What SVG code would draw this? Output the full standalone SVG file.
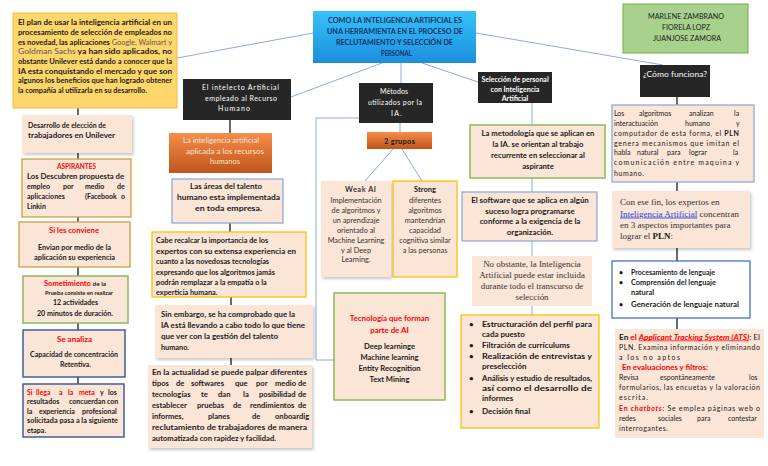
<svg xmlns="http://www.w3.org/2000/svg" width="768" height="466" viewBox="0 0 768 466">
<defs>
<filter id="sh" x="-10%" y="-10%" width="130%" height="130%"><feDropShadow dx="1.5" dy="2" stdDeviation="1.5" flood-color="#000" flood-opacity="0.22"/></filter>
<linearGradient id="gB" x1="0" y1="0" x2="0" y2="1"><stop offset="0" stop-color="#35C3F7"/><stop offset="1" stop-color="#1C8EDF"/></linearGradient>
<linearGradient id="gO" x1="0" y1="0" x2="0" y2="1"><stop offset="0" stop-color="#F58D4C"/><stop offset="1" stop-color="#BF5519"/></linearGradient>
</defs>
<style>
.pe{fill:#FBE5D6}
.blk{fill:#262626}
.gold{fill:#FBE5D6;stroke:#C9A043;stroke-width:1.3}
.yel{fill:#FBE5D6;stroke:#FFC000;stroke-width:1.3}
.grn{fill:#FBE5D6;stroke:#8DB85A;stroke-width:1.5}
.dbl{fill:#FBE5D6;stroke:#3E5F9E;stroke-width:1.5}
.lbl{fill:#FBE5D6;stroke:#8FAADC;stroke-width:1.3}
.t{font-family:Lato,"Liberation Sans",sans-serif;font-size:7px;font-weight:bold;fill:#1a1a1a}
.n{font-weight:normal}
.c{text-anchor:middle}
.r{fill:#FF0000}
.w{fill:#ffffff;font-weight:normal}
.s{font-family:"Liberation Serif",serif;font-weight:normal;font-size:8.9px;fill:#333333}
.con{stroke:#8EA9DB;stroke-width:1;fill:none}
.dk{stroke:#3a3a3a;stroke-width:1.5;fill:none}
.a{font-size:7.6px}
</style>
<rect width="768" height="466" fill="#ffffff"/>

<g id="connectors">
<path class="con" d="M177 58 L313 33"/>
<path class="con" d="M476 33 L663 65"/>
<path class="con" d="M382 63 L291 97"/>
<path class="con" d="M401 63 L401 83"/>
<path class="con" d="M422 63 L478 82"/>
<path class="con" d="M400 123 L400 132"/>
<path class="con" d="M393 149 L365 181"/>
<path class="con" d="M402 149 L422 181"/>
<path class="con" d="M359 118 L316 118 L316 360 L334 360"/>
<path class="con" d="M532 103 L532 125 M532 178 L532 192 M532 241 L532 256 M532 306 L532 315"/>
<path class="dk" d="M78 108 L78 115 M78 153 L78 159 M78 217 L78 222 M78 267 L78 276 M78 323 L78 330 M78 377 L78 384"/>
<path class="dk" d="M230 120 L230 133 M230 223 L230 232 M231 297 L231 305 M231 358 L231 365"/>
<path class="dk" d="M677 97 L677 105 M677 182 L677 192 M677 248 L677 261 M677 318 L677 329"/>
</g>

<g id="title">
<rect x="313" y="11" width="163" height="52" fill="url(#gB)"/>
<text class="t" x="328" y="23" style="font-size:7.2px;fill:#12306A" textLength="134" lengthAdjust="spacingAndGlyphs">COMO LA INTELIGENCIA ARTIFICIAL ES</text>
<text class="t" x="327" y="34" style="font-size:7.2px;fill:#12306A" textLength="136" lengthAdjust="spacingAndGlyphs">UNA HERRAMIENTA EN EL PROCESO DE</text>
<text class="t" x="336" y="45" style="font-size:7.2px;fill:#12306A" textLength="117" lengthAdjust="spacingAndGlyphs">RECLUTAMIENTO Y SELECCIÓN DE</text>
<text class="t" x="381" y="56" style="font-size:7.2px;fill:#12306A" textLength="32" lengthAdjust="spacingAndGlyphs">PERSONAL.</text>
</g>

<g id="authors">
<rect x="623" y="4" width="125" height="49" fill="#A9D18E" stroke="#70AD47" stroke-width="1"/>
<text class="t n" x="648" y="19" style="font-size:7.2px" textLength="76" lengthAdjust="spacingAndGlyphs">MARLENE ZAMBRANO</text>
<text class="t n" x="662" y="30" style="font-size:7.2px" textLength="48" lengthAdjust="spacingAndGlyphs">FIORELA LOPZ</text>
<text class="t n" x="653" y="41" style="font-size:7.2px" textLength="68" lengthAdjust="spacingAndGlyphs">JUANJOSE ZAMORA</text>
</g>

<g id="intro">
<rect x="13" y="13" width="164" height="95" fill="#FFD66B" stroke="#F4B942" stroke-width="1"/>
<text class="t" x="18" y="25.3" style="font-size:6.9px" textLength="154" lengthAdjust="spacingAndGlyphs">El plan de usar la inteligencia artificial en un</text>
<text class="t" x="18" y="35" style="font-size:6.9px" textLength="154" lengthAdjust="spacingAndGlyphs">procesamiento   de selección de empleados no</text>
<text class="t" x="18" y="44.6" style="font-size:6.9px" textLength="154" lengthAdjust="spacingAndGlyphs">es novedad, las aplicaciones <tspan class="n" fill="#595959">Google, Walmart y</tspan></text>
<text class="t" x="18" y="54.2" style="font-size:6.9px" textLength="154" lengthAdjust="spacingAndGlyphs"><tspan class="n" fill="#595959">Goldman Sachs</tspan> ya han sido aplicados, no</text>
<text class="t" x="18" y="63.8" style="font-size:6.9px" textLength="154" lengthAdjust="spacingAndGlyphs">obstante Unilever está dando a conocer que la</text>
<text class="t" x="18" y="73.5" style="font-size:6.9px" textLength="154" lengthAdjust="spacingAndGlyphs">IA esta conquistando el mercado y que son</text>
<text class="t" x="18" y="83.1" style="font-size:6.9px" textLength="154" lengthAdjust="spacingAndGlyphs">algunos los beneficios que han logrado obtener</text>
<text class="t" x="18" y="92.7" style="font-size:6.9px" textLength="129" lengthAdjust="spacingAndGlyphs">la compañía al utilizarla en su desarrollo.</text>
</g>

<g id="desarrollo">
<rect class="pe" x="22" y="115" width="110" height="38" filter="url(#sh)"/>
<text class="t" x="28" y="127.5" style="font-size:7.3px" textLength="78" lengthAdjust="spacingAndGlyphs">Desarrollo de elección de</text>
<text class="t" x="28" y="137.5" style="font-size:7.3px" textLength="87" lengthAdjust="spacingAndGlyphs">trabajadores en Unilever</text>
</g>

<g id="aspirantes">
<rect class="gold" x="22" y="159" width="109" height="58"/>
<text class="t r" x="57" y="168.5" textLength="39" lengthAdjust="spacingAndGlyphs">ASPIRANTES</text>
<text class="t" x="27" y="179" textLength="97" lengthAdjust="spacingAndGlyphs">Los Descubren propuesta de</text>
<text class="t" y="189"><tspan x="27">empleo</tspan><tspan x="63">por</tspan><tspan x="85">medio</tspan><tspan x="117">de</tspan></text>
<text class="t" y="199"><tspan x="27">aplicaciones</tspan><tspan x="85">(Facebook</tspan><tspan x="121">o</tspan></text>
<text class="t" x="27" y="209">Linkin</text>
</g>

<g id="conviene">
<rect class="gold" x="19" y="222" width="111" height="45"/>
<text class="t r" x="49" y="232.5" style="font-size:7.5px" textLength="50" lengthAdjust="spacingAndGlyphs">Si les conviene</text>
<text class="t" x="38" y="250" textLength="73" lengthAdjust="spacingAndGlyphs">Envian por medio de la</text>
<text class="t" x="34" y="259.5" textLength="81" lengthAdjust="spacingAndGlyphs">aplicación su experiencia</text>
</g>

<g id="sometimiento">
<rect class="grn" x="23" y="276" width="105" height="47"/>
<text class="t" x="44" y="285.5" textLength="62" lengthAdjust="spacingAndGlyphs"><tspan class="r">Sometimiento</tspan><tspan style="font-size:6px"> de la</tspan></text>
<text class="t" x="45" y="295" style="font-size:6px" textLength="68" lengthAdjust="spacingAndGlyphs">Prueba consiste en realizar</text>
<text class="t" x="53" y="305" textLength="45" lengthAdjust="spacingAndGlyphs">12 actividades</text>
<text class="t" x="37" y="315.5" textLength="76" lengthAdjust="spacingAndGlyphs">20 minutos de duración.</text>
</g>

<g id="analiza">
<rect class="dbl" x="23" y="330" width="102" height="47"/>
<text class="t r" x="57" y="341.5" textLength="35" lengthAdjust="spacingAndGlyphs">Se analiza</text>
<text class="t" x="30" y="357" textLength="88" lengthAdjust="spacingAndGlyphs">Capacidad de concentración</text>
<text class="t" x="60" y="367" textLength="31" lengthAdjust="spacingAndGlyphs">Retentiva.</text>
</g>

<g id="meta">
<rect class="dbl" x="23" y="384" width="101" height="53"/>
<text class="t r" y="394.5"><tspan x="27">Si</tspan><tspan x="36">llega</tspan><tspan x="59">a</tspan><tspan x="68">la</tspan><tspan x="79">meta</tspan></text>
<text class="t" y="394.5"><tspan x="100">y</tspan><tspan x="108">los</tspan></text>
<text class="t" y="404"><tspan x="27">resultados</tspan><tspan x="69">concuerdan</tspan><tspan x="107">con</tspan></text>
<text class="t" y="413.5"><tspan x="27">la</tspan><tspan x="39">experiencia</tspan><tspan x="82">profesional</tspan></text>
<text class="t" x="27" y="423" textLength="91" lengthAdjust="spacingAndGlyphs">solicitada pasa a la siguiente</text>
<text class="t" x="27" y="432.5">etapa.</text>
</g>

<g id="intelecto">
<rect class="blk" x="183" y="79" width="108" height="41"/>
<text class="t w" x="202" y="89.5" textLength="77" lengthAdjust="spacing">El intelecto Artificial</text>
<text class="t w" x="205" y="100.5" textLength="72" lengthAdjust="spacing">empleado al Recurso</text>
<text class="t w" x="218" y="111" textLength="32" lengthAdjust="spacing">Humano</text>
</g>

<g id="ia-rrhh">
<rect x="169" y="133" width="103" height="40" fill="url(#gO)"/>
<text class="t n" x="183" y="143" style="font-size:7.3px;fill:#FBE2D0" textLength="76" lengthAdjust="spacingAndGlyphs">La inteligencia artificial</text>
<text class="t n" x="186" y="153.5" style="font-size:7.3px;fill:#FBE2D0" textLength="78" lengthAdjust="spacingAndGlyphs">aplicada a los recursos</text>
<text class="t n" x="210" y="164" style="font-size:7.3px;fill:#FBE2D0" textLength="30" lengthAdjust="spacingAndGlyphs">humanos</text>
</g>

<g id="areas">
<rect class="lbl" x="172" y="179" width="111" height="44"/>
<text class="t" x="190" y="188.5" style="font-size:7.8px" textLength="72" lengthAdjust="spacingAndGlyphs">Las áreas del talento</text>
<text class="t" x="177" y="199.5" style="font-size:7.8px" textLength="103" lengthAdjust="spacingAndGlyphs">humano esta implementada</text>
<text class="t" x="195" y="211" style="font-size:7.8px" textLength="67" lengthAdjust="spacingAndGlyphs">en toda empresa.</text>
</g>

<g id="cabe">
<rect class="yel" x="152" y="232" width="154" height="65"/>
<text class="t" x="156" y="243" style="font-size:7.3px">Cabe recalcar la importancia de los</text>
<text class="t" x="156" y="253.5" style="font-size:7.3px" textLength="140" lengthAdjust="spacingAndGlyphs">expertos con su extensa experiencia en</text>
<text class="t" x="156" y="264" style="font-size:7.3px">cuanto a las novedosas tecnologías</text>
<text class="t" x="156" y="274.5" style="font-size:7.3px">expresando que los algoritmos jamás</text>
<text class="t" x="156" y="285" style="font-size:7.3px">podrán remplazar a la empatía o la</text>
<text class="t" x="156" y="295" style="font-size:7.3px">experticia humana.</text>
</g>

<g id="sinembargo">
<rect class="pe" x="155" y="305" width="158" height="53" filter="url(#sh)"/>
<text class="t" x="161" y="316.5" style="font-size:7.3px" textLength="134" lengthAdjust="spacingAndGlyphs">Sin embargo, se ha comprobado que la</text>
<text class="t" x="161" y="327.5" style="font-size:7.3px" textLength="144" lengthAdjust="spacingAndGlyphs">IA está llevando a cabo todo lo que tiene</text>
<text class="t" x="161" y="339" style="font-size:7.3px" textLength="117" lengthAdjust="spacingAndGlyphs">que ver con la gestión del talento</text>
<text class="t" x="161" y="350" style="font-size:7.3px">humano.</text>
</g>

<g id="actualidad">
<rect class="pe" x="148" y="365" width="164" height="83" filter="url(#sh)"/>
<text class="t a" x="152" y="374.5" textLength="155" lengthAdjust="spacingAndGlyphs">En la actualidad se puede palpar diferentes</text>
<text class="t a" y="386"><tspan x="152">tipos</tspan><tspan x="176">de</tspan><tspan x="191">softwares</tspan><tspan x="235">que</tspan><tspan x="256">por</tspan><tspan x="275">medio</tspan><tspan x="298">de</tspan></text>
<text class="t a" y="397"><tspan x="152">tecnologías</tspan><tspan x="201">te</tspan><tspan x="218">dan</tspan><tspan x="243">la</tspan><tspan x="259">posibilidad</tspan><tspan x="298">de</tspan></text>
<text class="t a" y="408"><tspan x="152">establecer</tspan><tspan x="197">pruebas</tspan><tspan x="233">de</tspan><tspan x="250">rendimientos</tspan><tspan x="298">de</tspan></text>
<text class="t a" y="419"><tspan x="152">informes,</tspan><tspan x="208">planes</tspan><tspan x="252">de</tspan><tspan x="275">onboardig</tspan></text>
<text class="t a" x="152" y="429.5" textLength="155" lengthAdjust="spacingAndGlyphs">reclutamiento de trabajadores de manera</text>
<text class="t a" x="152" y="441">automatizada con rapidez y facilidad.</text>
</g>

<g id="metodos">
<rect class="blk" x="359" y="83" width="74" height="40"/>
<text class="t w" x="380" y="93.5" textLength="28" lengthAdjust="spacing">Métodos</text>
<text class="t w" x="368" y="104.5" textLength="54" lengthAdjust="spacing">utilizados por la</text>
<text class="t w" x="391" y="115.5" textLength="11" lengthAdjust="spacing">IA.</text>
</g>

<g id="grupos">
<rect x="367" y="132" width="65" height="17" fill="url(#gO)"/>
<text class="t" x="384" y="143.5" style="font-size:7.5px" textLength="31" lengthAdjust="spacing">2 grupos</text>
</g>

<g id="weak">
<rect class="pe" x="321" y="181" width="70" height="96" filter="url(#sh)"/>
<text class="t" x="345" y="191.5" style="font-size:7.5px;font-weight:600" textLength="31" lengthAdjust="spacing">Weak AI</text>
<text class="t c n" x="356" y="202.5" style="font-size:7.3px;fill:#333">Implementación</text>
<text class="t c n" x="356" y="213" style="font-size:7.3px;fill:#333">de algoritmos y</text>
<text class="t c n" x="356" y="223" style="font-size:7.3px;fill:#333">un aprendizaje</text>
<text class="t c n" x="356" y="232.5" style="font-size:7.3px;fill:#333">orientado al</text>
<text class="t c n" x="356" y="242.5" style="font-size:7.3px;fill:#333">Machine Learning</text>
<text class="t c n" x="356" y="252.5" style="font-size:7.3px;fill:#333">y al Deep</text>
<text class="t c n" x="356" y="261.5" style="font-size:7.3px;fill:#333">Learning.</text>
</g>

<g id="strong">
<rect class="yel" x="393" y="181" width="64" height="96"/>
<text class="t c" x="425" y="191.5" style="font-size:7.5px">Strong</text>
<text class="t c n" x="425" y="202.5" style="font-size:7.3px;fill:#333">diferentes</text>
<text class="t c n" x="425" y="212.5" style="font-size:7.3px;fill:#333">algoritmos</text>
<text class="t c n" x="425" y="222.5" style="font-size:7.3px;fill:#333">mantendrían</text>
<text class="t c n" x="425" y="232.5" style="font-size:7.3px;fill:#333">capacidad</text>
<text class="t c n" x="425" y="242.5" style="font-size:7.3px;fill:#333">cognitiva similar</text>
<text class="t c n" x="425" y="252.5" style="font-size:7.3px;fill:#333">a las personas</text>
</g>

<g id="tecnologia">
<rect class="grn" x="334" y="293" width="111" height="107"/>
<text class="t c r" x="389.5" y="320.5" style="font-size:7.9px">Tecnología que forman</text>
<text class="t c r" x="389.5" y="333" style="font-size:7.9px">parte de AI</text>
<text class="t c" x="389.5" y="349" style="font-size:7.6px">Deep learninge</text>
<text class="t c" x="389.5" y="360" style="font-size:7.6px">Machine learning</text>
<text class="t c" x="389.5" y="371" style="font-size:7.6px">Entity Recognition</text>
<text class="t c" x="389.5" y="382" style="font-size:7.6px">Text Mining</text>
</g>

<g id="seleccion">
<rect class="blk" x="478" y="72" width="74" height="31"/>
<text class="t c" x="515" y="81.5" style="font-size:7px;fill:#fff">Selección de personal</text>
<text class="t c" x="515" y="91.5" style="font-size:7px;fill:#fff">con Inteligencia</text>
<text class="t c" x="515" y="101" style="font-size:7px;fill:#fff">Artificial</text>
</g>

<g id="metodologia">
<rect class="grn" x="470" y="125" width="135" height="53"/>
<text class="t c" x="538" y="135.5" style="font-size:7.7px">La metodología que se aplican en</text>
<text class="t c" x="538" y="146.5" style="font-size:7.7px">la IA. se orientan al trabajo</text>
<text class="t c" x="538" y="157.5" style="font-size:7.7px">recurrente en seleccionar al</text>
<text class="t c" x="538" y="168.5" style="font-size:7.7px">aspirante</text>
</g>

<g id="software">
<rect class="lbl" x="462" y="192" width="135" height="49"/>
<text class="t c" x="530" y="202.5" style="font-size:7.9px">El software que se aplica en algún</text>
<text class="t c" x="530" y="213.5" style="font-size:7.9px">suceso logra programarse</text>
<text class="t c" x="530" y="224" style="font-size:7.9px">conforme a la exigencia de la</text>
<text class="t c" x="530" y="234.5" style="font-size:7.9px">organización.</text>
</g>

<g id="noobstante">
<rect class="pe" x="472" y="256" width="120" height="50"/>
<text class="s c" x="532" y="267">No obstante, la Inteligencia</text>
<text class="s c" x="532" y="278">Artificial puede estar incluida</text>
<text class="s c" x="532" y="289">durante todo el transcurso de</text>
<text class="s c" x="532" y="300">selección</text>
</g>

<g id="etapas">
<rect class="yel" x="461" y="315" width="138" height="113"/>
<text class="t" x="469" y="327" style="font-size:8px">•</text>
<text class="t" x="482" y="327" style="font-size:8px" textLength="110" lengthAdjust="spacingAndGlyphs">Estructuración del perfil para</text>
<text class="t" x="482" y="337" style="font-size:8px">cada puesto</text>
<text class="t" x="469" y="348" style="font-size:8px">•</text>
<text class="t" x="482" y="348" style="font-size:8px">Filtración de currículums</text>
<text class="t" x="469" y="359" style="font-size:8px">•</text>
<text class="t" x="482" y="359" style="font-size:8px" textLength="110" lengthAdjust="spacingAndGlyphs">Realización de entrevistas y</text>
<text class="t" x="482" y="369" style="font-size:8px">preselección</text>
<text class="t" x="469" y="381" style="font-size:8px">•</text>
<text class="t" x="482" y="381" style="font-size:8px" textLength="110" lengthAdjust="spacingAndGlyphs">Análisis y estudio de resultados,</text>
<text class="t" x="482" y="391" style="font-size:8px" textLength="110" lengthAdjust="spacingAndGlyphs">así como el desarrollo de</text>
<text class="t" x="482" y="401" style="font-size:8px">informes</text>
<text class="t" x="469" y="414" style="font-size:8px">•</text>
<text class="t" x="482" y="414" style="font-size:8px">Decisión final</text>
</g>

<g id="funciona">
<rect class="blk" x="640" y="65" width="70" height="32"/>
<text class="t w" x="643" y="77" style="font-size:8px" textLength="64" lengthAdjust="spacingAndGlyphs">¿Cómo funciona?</text>
</g>

<g id="algoritmos">
<rect class="lbl" x="612" y="105" width="142" height="77"/>
<text class="t n" y="115.5"><tspan x="614">Los</tspan><tspan x="639">algoritmos</tspan><tspan x="689">analizan</tspan><tspan x="734">la</tspan></text>
<text class="t n" y="126"><tspan x="614">interactuación</tspan><tspan x="685">humano</tspan><tspan x="736">y</tspan></text>
<text class="t n" x="614" y="135.5" textLength="125" lengthAdjust="spacing">computador  de esta forma, el <tspan style="font-weight:bold">PLN</tspan></text>
<text class="t n" x="614" y="145.5" textLength="125" lengthAdjust="spacing">genera mecanismos que imitan el</text>
<text class="t n" y="155"><tspan x="614">habla</tspan><tspan x="637">natural</tspan><tspan x="667">para</tspan><tspan x="689">lograr</tspan><tspan x="733">la</tspan></text>
<text class="t n" x="614" y="164.5" textLength="125" lengthAdjust="spacing">comunicación entre maquina y</text>
<text class="t n" x="614" y="176" textLength="30" lengthAdjust="spacing">humano.</text>
</g>

<g id="conesefin">
<rect class="pe" x="612" y="191" width="138" height="57" filter="url(#sh)"/>
<text class="s" x="620" y="205" style="font-size:9px">Con ese fin, los expertos en</text>
<text class="s" x="620" y="216.5" style="font-size:9px"><tspan fill="#1F3FE0" text-decoration="underline">Inteligencia Artificial</tspan> concentran</text>
<text class="s" x="620" y="227.5" style="font-size:9px">en 3 aspectos importantes  para</text>
<text class="s" x="620" y="239" style="font-size:9px">lograr el <tspan font-weight="bold" fill="#222">PLN</tspan>:</text>
</g>

<g id="aspectos">
<rect x="612" y="261" width="138" height="57" fill="#ffffff" stroke="#4472C4" stroke-width="1.3"/>
<text class="t" x="619" y="275">•</text>
<text class="t" x="631" y="275" style="font-size:7.4px" textLength="84" lengthAdjust="spacingAndGlyphs">Procesamiento de lenguaje</text>
<text class="t" x="619" y="285">•</text>
<text class="t" x="631" y="285" style="font-size:7.4px">Comprensión del lenguaje</text>
<text class="t" x="631" y="295" style="font-size:7.4px">natural</text>
<text class="t" x="619" y="307">•</text>
<text class="t" x="631" y="307" style="font-size:7.4px" textLength="108" lengthAdjust="spacingAndGlyphs">Generación de lenguaje natural</text>
</g>

<g id="ats">
<rect class="pe" x="615" y="329" width="149" height="109"/>
<text class="t n" x="619" y="339.5" textLength="141" lengthAdjust="spacingAndGlyphs"><tspan style="font-weight:bold">En </tspan><tspan class="r" style="font-weight:bold">el </tspan><tspan class="r" style="font-weight:bold;font-style:italic" text-decoration="underline">Applicant Tracking System (ATS)</tspan>: El</text>
<text class="t n" x="619" y="349.5" textLength="141" lengthAdjust="spacing">PLN. Examina información y eliminando</text>
<text class="t n" x="619" y="359.5" textLength="61" lengthAdjust="spacing">a los no aptos</text>
<text class="t r" x="622" y="370" textLength="86" lengthAdjust="spacingAndGlyphs">En evaluaciones y filtros:</text>
<text class="t n" y="380"><tspan x="619">Revisa</tspan><tspan x="660">espontáneamente</tspan><tspan x="749">los</tspan></text>
<text class="t n" x="619" y="390" textLength="141" lengthAdjust="spacing">formularios, las encuetas y la valoración</text>
<text class="t n" x="619" y="400" textLength="29" lengthAdjust="spacing">escrita.</text>
<text class="t n" x="619" y="411" textLength="141" lengthAdjust="spacing"><tspan class="r" style="font-weight:bold">En <tspan style="font-style:italic">chatbots</tspan>:</tspan> Se emplea páginas web o</text>
<text class="t n" y="421"><tspan x="619">redes</tspan><tspan x="658">sociales</tspan><tspan x="697">para</tspan><tspan x="728">contestar</tspan></text>
<text class="t n" x="619" y="431" textLength="49" lengthAdjust="spacing">interrogantes.</text>
</g>
</svg>
